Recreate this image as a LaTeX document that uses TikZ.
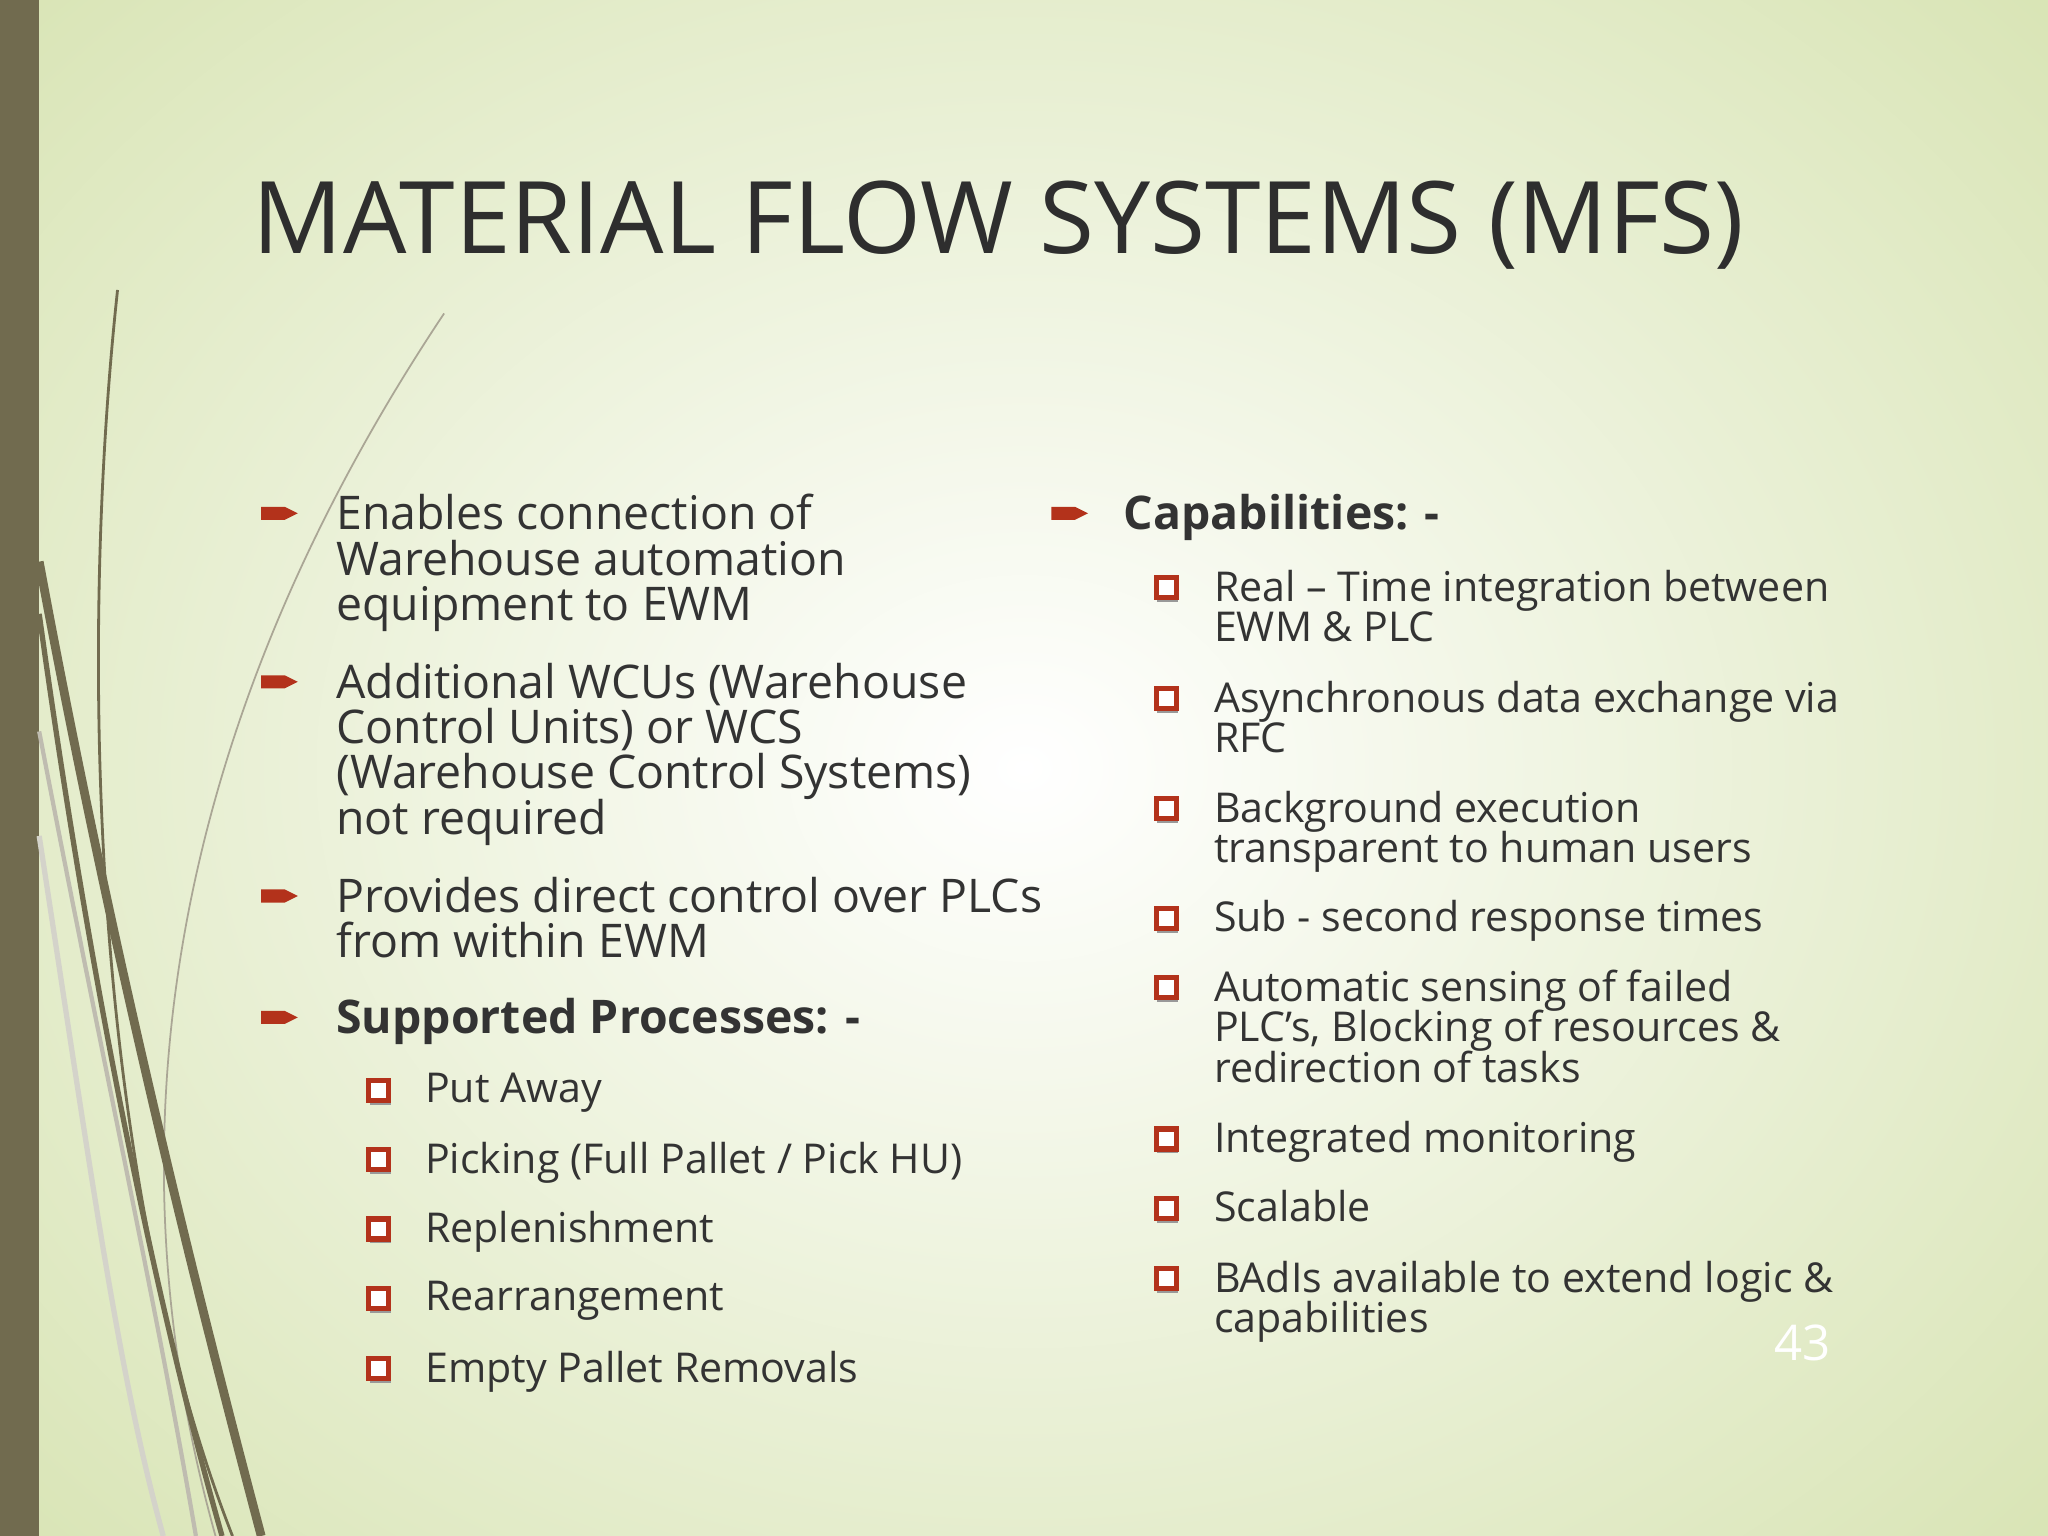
\documentclass[tikz,border=0pt]{standalone}
\usepackage{fontspec}
\setmainfont{Open Sans}
\definecolor{bgg}{HTML}{D8E4B4}
\definecolor{olive}{HTML}{716B4F}
\definecolor{bul}{HTML}{B3321B}
\definecolor{txt}{HTML}{333333}
\AtBeginDocument{\lineskiplimit=-20pt\lineskip=0pt}
\begin{document}
\begin{tikzpicture}[x=0.013061cm,y=-0.013061cm,
  item/.style={anchor=north west,inner sep=0pt,align=left,text=txt,font=\fontsize{13.2pt}{12.9pt}\selectfont},
  bitem/.style={anchor=north west,inner sep=0pt,align=left,text=txt,font=\bfseries\fontsize{13.2pt}{12.9pt}\selectfont},
  sitem/.style={anchor=north west,inner sep=0pt,align=left,text=txt,font=\fontsize{11.7pt}{11.5pt}\selectfont},
  arr/.style={fill=bul,draw=none},
  sq/.style={draw=bul,fill=white,line width=1.5pt,minimum size=0.2cm,inner sep=0pt}]
\useasboundingbox (0,0) rectangle (1568,1176);
\fill[inner color=white,outer color=bgg] (-300,-300) rectangle (1868,1476);
\fill[olive] (0,0) rectangle (30,1176);
% curves
\draw[olive!60,line width=0.5pt] (340,240) .. controls (180,480) and (60,800) .. (165,1176);
\draw[olive,line width=0.8pt] (90,222) .. controls (60,500) and (70,900) .. (178,1176);
\draw[olive!30,line width=1.5pt] (30,640) .. controls (70,900) and (90,1050) .. (125,1176);
\draw[olive!45,line width=1.2pt] (30,560) .. controls (80,820) and (120,1000) .. (150,1176);
\draw[olive,line width=2.5pt] (30,430) .. controls (80,700) and (140,950) .. (200,1176);
\draw[olive,line width=1.5pt] (30,470) .. controls (70,760) and (120,1000) .. (170,1176);
% title
\node[anchor=west,inner sep=0pt,text=txt!90!black,font=\fontsize{28.5pt}{34pt}\selectfont] (title) at (193,172) {MATERIAL FLOW SYSTEMS (MFS)};
% left bullets
\node[item] (l1) at (257,378) {Enables connection of\\Warehouse automation\\equipment to EWM};
\node[item] (l2) at (257,507) {Additional WCUs (Warehouse\\Control Units) or WCS\\(Warehouse Control Systems)\\not required};
\node[item] (l3) at (257,671) {Provides direct control over PLCs\\from within EWM};
\node[bitem] (l4) at (257,764) {Supported Processes: -};
\foreach \y in {393,522,686,779}{
  \fill[arr] (200,\y-5) -- (218,\y-5) -- (228,\y) -- (218,\y+5) -- (200,\y+5) -- cycle;}
\node[sitem] (s1) at (325,821) {Put Away};
\node[sitem] (s2) at (325,874) {Picking (Full Pallet / Pick HU)};
\node[sitem] (s3) at (325,927) {Replenishment};
\node[sitem] (s4) at (325,980) {Rearrangement};
\node[sitem] (s5) at (325,1034) {Empty Pallet Removals};
\foreach \y/\n in {835/b1,888/b2,941/b3,994/b4,1048/b5}{
  \fill[black!40] (283,\y-5) rectangle (299,\y+11);
  \node[sq] (\n) at (290,\y) {};}
% right
\fill[arr] (805,388) -- (823,388) -- (833,393) -- (823,398) -- (805,398) -- cycle;
\node[bitem] (r0) at (860,378) {Capabilities: -};
\node[sitem] (r1) at (929,436) {Real – Time integration between\\EWM \& PLC};
\node[sitem] (r2) at (929,521) {Asynchronous data exchange via\\RFC};
\node[sitem] (r3) at (929,605) {Background execution\\transparent to human users};
\node[sitem] (r4) at (929,689) {Sub - second response times};
\node[sitem] (r5) at (929,742) {Automatic sensing of failed\\PLC’s, Blocking of resources \&\\redirection of tasks};
\node[sitem] (r6) at (929,858) {Integrated monitoring};
\node[sitem] (r7) at (929,911) {Scalable};
\node[sitem] (r8) at (929,965) {BAdIs available to extend logic \&\\capabilities};
\foreach \y/\n in {450/c1,535/c2,619/c3,703/c4,756/c5,872/c6,925/c7,979/c8}{
  \fill[black!40] (886,\y-5) rectangle (902,\y+11);
  \node[sq] (\n) at (893,\y) {};}
\node[anchor=center,inner sep=0pt,text=white,font=\fontsize{14pt}{18pt}\selectfont] (num) at (1380,1028) {43};
\end{tikzpicture}
\end{document}
